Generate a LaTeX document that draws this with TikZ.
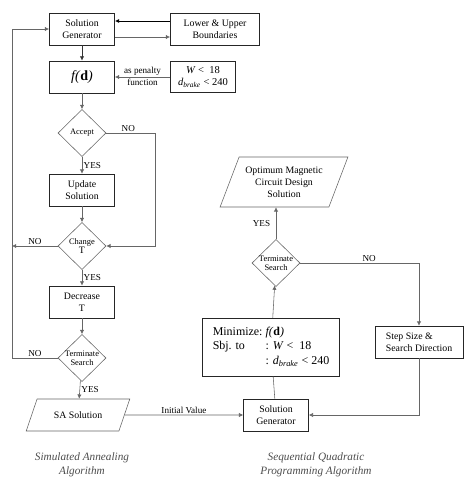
\documentclass[tikz,border=0pt]{standalone}
\usepackage{fontspec}
\setmainfont{Liberation Serif}
\usetikzlibrary{shapes.geometric,arrows.meta}
\begin{document}
\begin{tikzpicture}[
    x=0.025cm, y=-0.025cm,
    box/.style={draw=black!85, line width=0.6pt, minimum width=1.625cm, minimum height=0.8cm, align=center,
      font=\fontsize{7}{8.5}\selectfont, inner sep=1pt},
    decide/.style={draw=gray!80!black, diamond, aspect=1, minimum width=1.2cm, minimum height=1.18cm,
      inner sep=-3pt, align=center, font=\fontsize{6}{6.5}\selectfont},
    io/.style={draw=gray!80!black, trapezium, trapezium stretches=true, align=center,
      font=\fontsize{7}{8.5}\selectfont, inner sep=1pt},
    line/.style={draw=gray!80!black, -{Latex[length=3pt,width=3pt]}},
    lbl/.style={font=\fontsize{6.5}{8}\selectfont, inner sep=1pt},
    caption/.style={font=\fontsize{8}{10}\selectfont\itshape, text=gray!60!black, align=center},
  ]
    \useasboundingbox (0,0) rectangle (474,492);
    % Simulated annealing column
    \node[box] (sgen) at (82,29) {Solution\\Generator};
    \node[box, minimum width=2.225cm] (bounds) at (215,29) {Lower \& Upper\\Boundaries};
    \node[box, font=\fontsize{10}{12}\selectfont] (fd) at (82,77) {\textit{f(}\textbf{d}\textit{)}};
    \node[box, minimum height=0.78cm, font=\fontsize{7.5}{9}\selectfont] (limits) at (203,77)
      {\textit{W} <\enspace 18\\\textit{d}\textsubscript{\textit{brake}} < 240};
    \node[decide] (accept) at (82,133) {Accept};
    \node[box, thin] (update) at (82,190) {Update\\Solution};
    \node[decide] (change) at (82,246) {Change\\{\fontsize{7}{8}\selectfont T}};
    \node[box] (decrease) at (82,302) {Decrease\\T};
    \node[decide] (term) at (82,358) {Terminate\\Search};
    \node[io, trapezium left angle=55, trapezium right angle=125, minimum width=2.6cm,
      minimum height=0.8cm] (sasol) at (78,415) {SA Solution};
    \coordinate (loopno) at (12,246);
    \coordinate (loopbase) at (12,358);
    % Sequential quadratic programming column
    \node[box, thin] (sqpgen) at (276,415) {Solution\\Generator};
    \node[box, minimum width=3.425cm, minimum height=1.45cm, align=left,
      font=\fontsize{8.5}{10.6}\selectfont] (minim) at (271,347)
      {\begin{tabular}{@{}l@{\ }l@{}}
        Minimize: & \textit{f(}\textbf{d}\textit{)}\\
        Sbj. to & : \textit{W} <\enspace 18\\
         & : \textit{d}\textsubscript{\textit{brake}} < 240
      \end{tabular}};
    \node[decide] (sqpterm) at (276,263) {Terminate\\Search};
    \node[io, trapezium left angle=63, trapezium right angle=117, minimum width=3.2cm,
      minimum height=1.25cm] (optimum) at (284,182) {Optimum Magnetic\\Circuit Design\\Solution};
    \node[box, thin, minimum width=2.2cm, align=left] (stepdir) at (419,342)
      {Step Size \&\\Search Direction};
    % Connectors
    \draw[line, draw=black, semithick] ([yshift=0.2cm]bounds.west) -- ([yshift=0.2cm]sgen.east);
    \draw[line] ([yshift=-0.2cm]sgen.east) -- ([yshift=-0.2cm]bounds.west);
    \draw[line, draw=black!80] (sgen) -- (fd);
    \draw[line] (limits) -- (fd)
      node[lbl, midway, above] {as penalty}
      node[lbl, midway, below] {function};
    \draw[line] (fd) -- (accept);
    \draw[line] (accept) -- (update) node[lbl, midway, right] {YES};
    \draw[line] (accept.east) -- ++(49,0) node[lbl, pos=0.45, above] {NO} |- (change.east);
    \draw[line] (update) -- (change);
    \draw[line] (change.west) -- (loopno) node[lbl, midway, above] {NO};
    \draw[line] (change) -- (decrease) node[lbl, midway, right] {YES};
    \draw[line] (decrease) -- (term);
    \draw[line] (term.west) -- (loopbase) node[lbl, midway, above] {NO} |- (sgen.west);
    \draw[line] (term) -- (sasol) node[lbl, midway, right] {YES};
    \draw[line] (sasol.east) -- (sqpgen.west) node[lbl, midway, above] {Initial Value};
    \draw[draw=gray!80!black] (sqpgen) -- (minim);
    \draw[line] (minim) -- (sqpterm);
    \draw[line] (sqpterm.north) -- (sqpterm.north |- optimum.south) node[lbl, midway, left=3pt] {YES};
    \draw[line] (sqpterm.east) -| (stepdir.north) node[lbl, pos=0.29, above] {NO};
    \draw[line] (stepdir.south) |- (sqpgen.east);
    % Captions
    \node[caption] (sacap) at (82,465) {Simulated Annealing\\Algorithm};
    \node[caption] (sqpcap) at (316,465) {Sequential Quadratic\\Programming Algorithm};
  \end{tikzpicture}
\end{document}
